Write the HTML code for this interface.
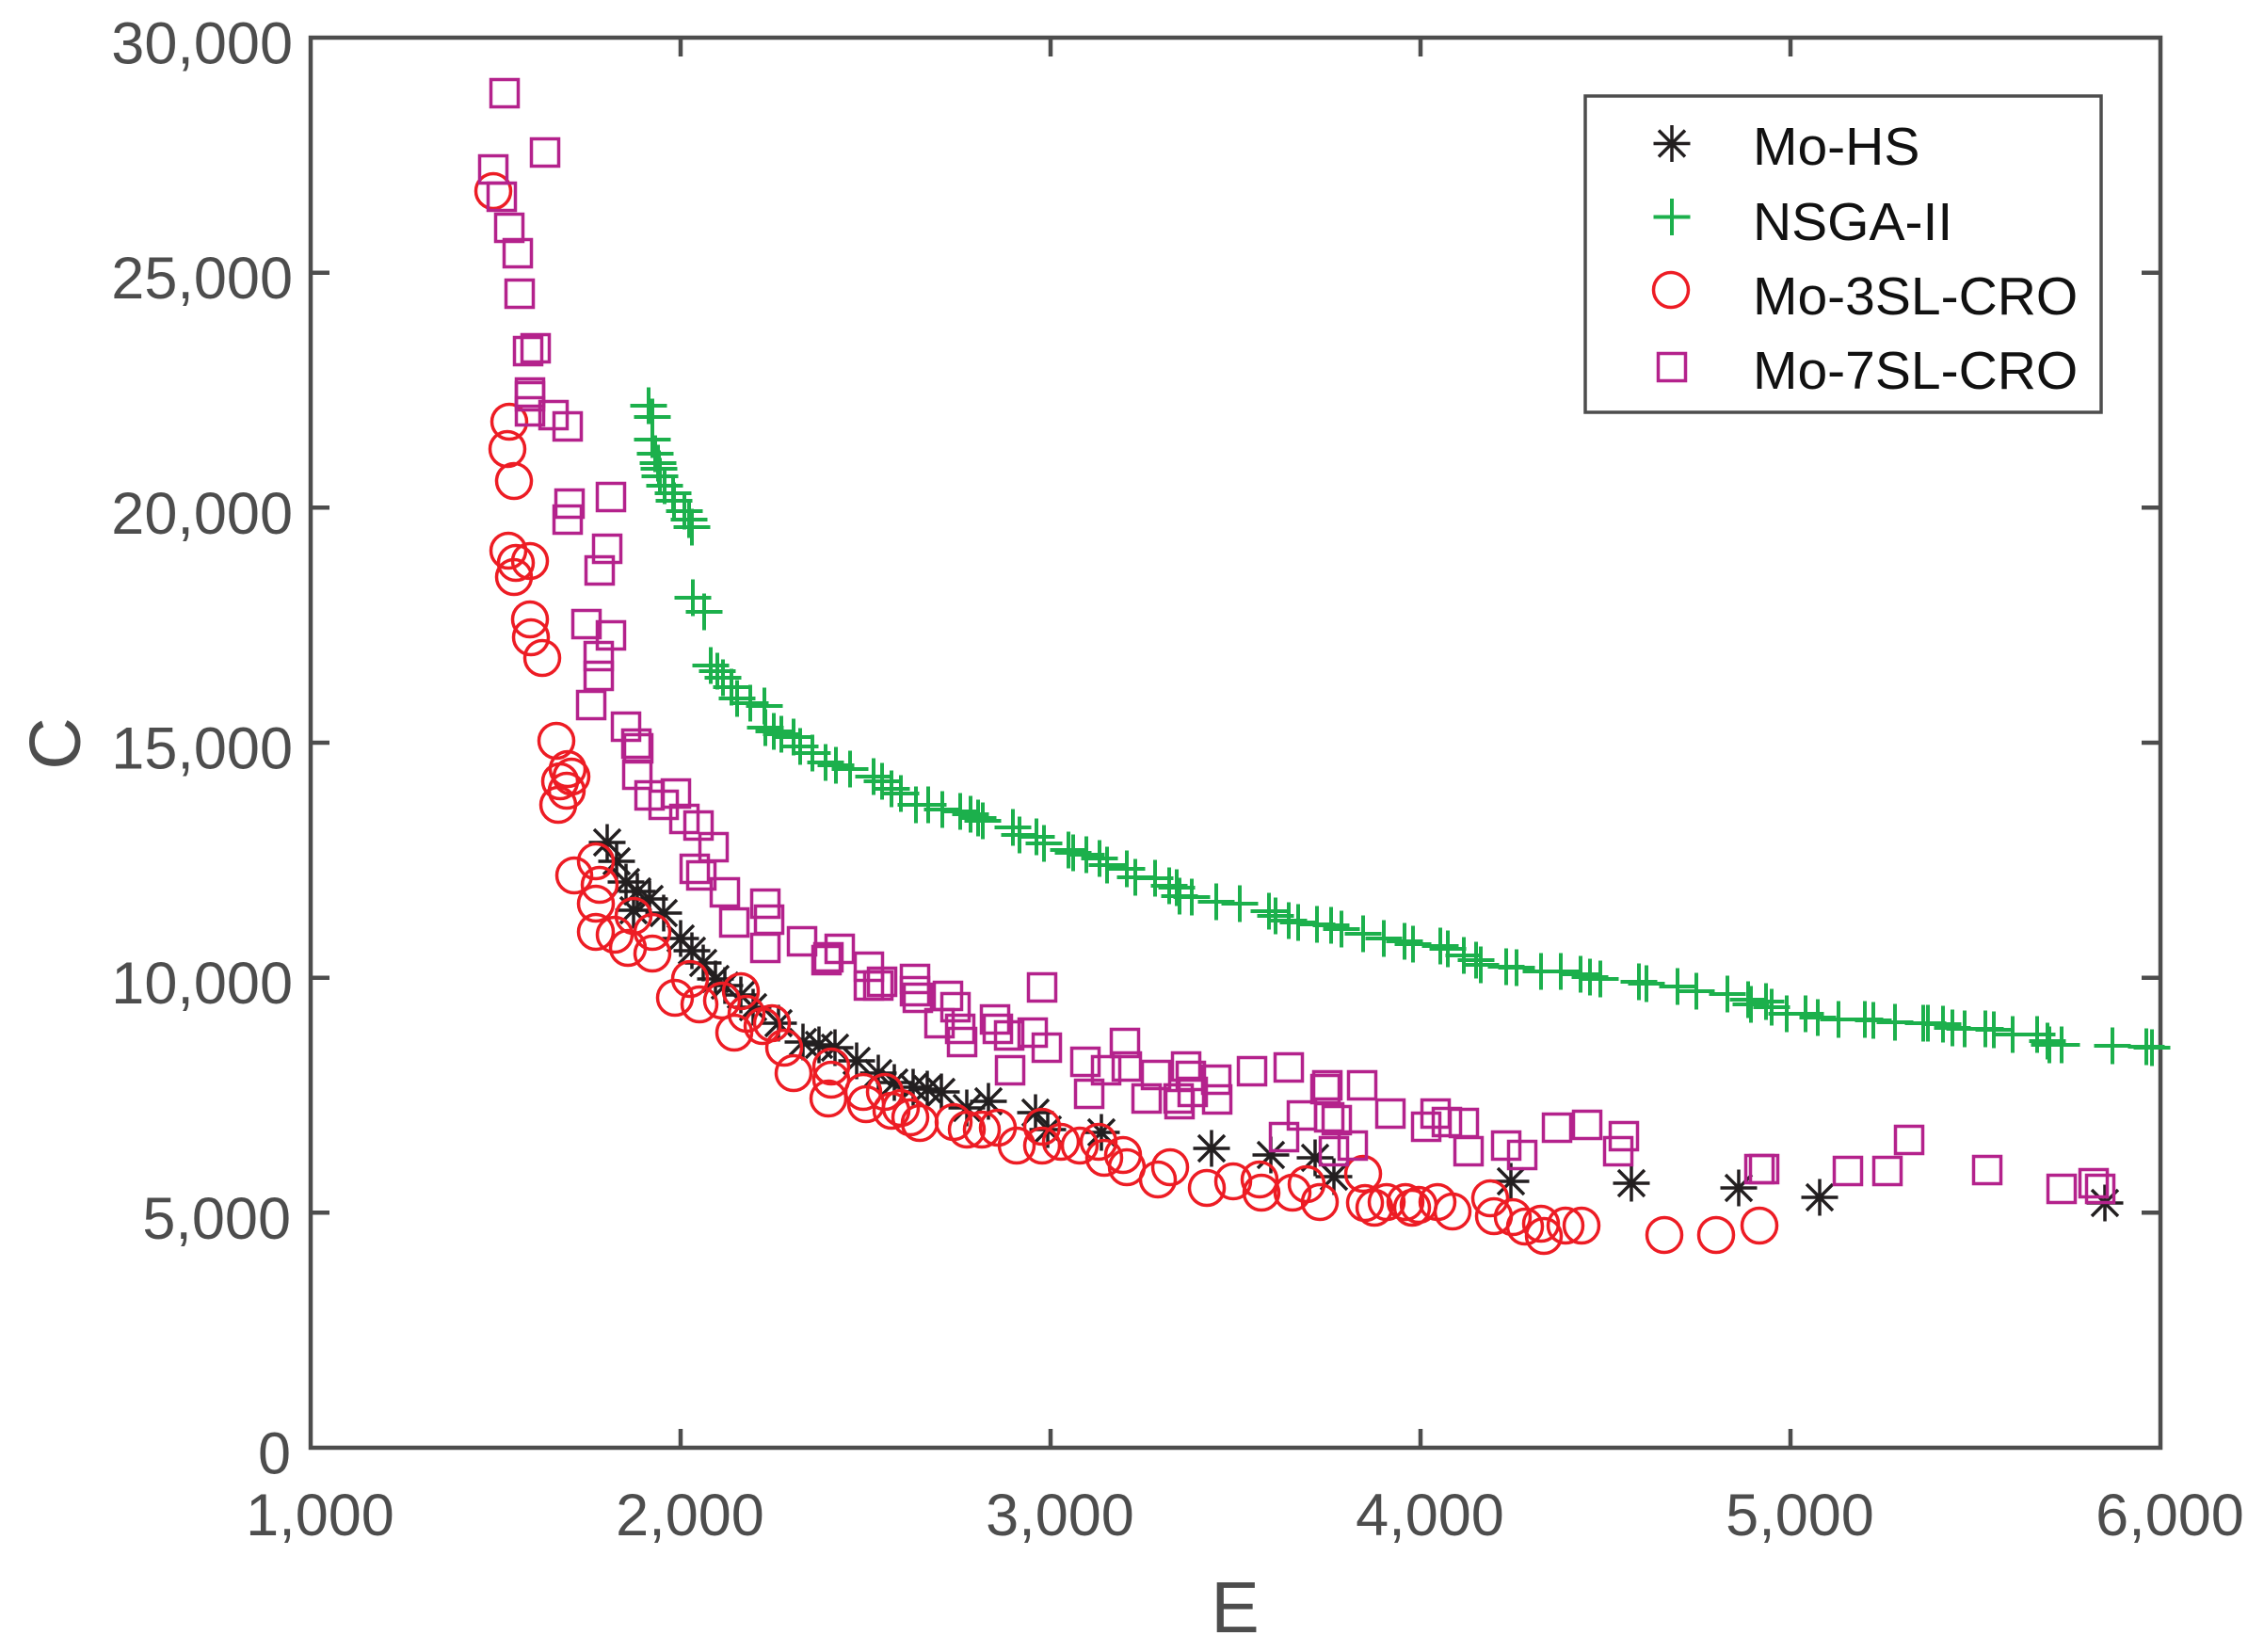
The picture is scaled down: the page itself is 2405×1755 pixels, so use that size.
<!DOCTYPE html>
<html>
<head>
<meta charset="utf-8">
<style>
html,body{margin:0;padding:0;background:#fff;}
svg{display:block;}
text{font-family:"Liberation Sans",Arial,Helvetica,sans-serif;}
</style>
</head>
<body>
<svg width="2405" height="1755" viewBox="0 0 2405 1755">
<defs>
<path id="a" d="M-19.5 0H19.5M0 -19.5V19.5M-14 -14L14 14M-14 14L14 -14" stroke="#231f20" stroke-width="3.5" fill="none"/>
<path id="p" d="M-19.5 0H19.5M0 -19.5V19.5" stroke="#1cb04c" stroke-width="4" fill="none"/>
<circle id="o" cx="0" cy="0" r="18.5" stroke="#ed1c24" stroke-width="3.5" fill="none"/>
<rect id="s" x="-14.5" y="-14.5" width="29" height="29" stroke="#b4228c" stroke-width="3.5" fill="none"/>
</defs>
<rect x="0" y="0" width="2405" height="1755" fill="#fff"/>

<!-- axes box -->
<rect x="330" y="40" width="1965" height="1498" fill="none" stroke="#4d4d4d" stroke-width="4.5"/>
<!-- ticks -->
<g stroke="#4d4d4d" stroke-width="4.5" fill="none">
<path d="M723 1538V1518M1116 1538V1518M1509 1538V1518M1902 1538V1518"/>
<path d="M723 40V60M1116 40V60M1509 40V60M1902 40V60"/>
<path d="M330 1288.3H350M330 1038.7H350M330 789H350M330 539.3H350M330 289.7H350"/>
<path d="M2295 1288.3H2275M2295 1038.7H2275M2295 789H2275M2295 539.3H2275M2295 289.7H2275"/>
</g>
<!-- tick labels -->
<g fill="#4d4d4d" font-size="63">
<g text-anchor="middle">
<text x="340" y="1631">1,000</text>
<text x="733" y="1631">2,000</text>
<text x="1126" y="1631">3,000</text>
<text x="1519" y="1631">4,000</text>
<text x="1912" y="1631">5,000</text>
<text x="2305" y="1631">6,000</text>
</g>
<g text-anchor="end">
<text x="309" y="1565.5">0</text>
<text x="309" y="1315.8">5,000</text>
<text x="311" y="1066.2">10,000</text>
<text x="311" y="816.5">15,000</text>
<text x="311" y="566.8">20,000</text>
<text x="311" y="317.2">25,000</text>
<text x="311" y="67.5">30,000</text>
</g>
</g>
<!-- axis labels -->
<text x="1312" y="1734" font-size="77" fill="#4d4d4d" text-anchor="middle">E</text>
<text transform="translate(85,790) rotate(-90)" x="0" y="0" font-size="77" fill="#4d4d4d" text-anchor="middle">C</text>

<!-- Mo-HS -->
<g>
<use href="#a" x="645" y="895"/><use href="#a" x="655" y="915"/><use href="#a" x="665" y="937"/><use href="#a" x="677" y="947"/>
<use href="#a" x="673" y="967"/><use href="#a" x="690" y="955"/><use href="#a" x="705" y="970"/><use href="#a" x="723" y="997"/>
<use href="#a" x="735" y="1010"/><use href="#a" x="747" y="1023"/><use href="#a" x="760" y="1040"/><use href="#a" x="770" y="1047"/>
<use href="#a" x="787" y="1057"/><use href="#a" x="800" y="1070"/><use href="#a" x="827" y="1087"/><use href="#a" x="853" y="1107"/>
<use href="#a" x="870" y="1110"/><use href="#a" x="887" y="1113"/><use href="#a" x="910" y="1127"/><use href="#a" x="933" y="1140"/>
<use href="#a" x="950" y="1150"/><use href="#a" x="970" y="1155"/><use href="#a" x="985" y="1157"/><use href="#a" x="1000" y="1160"/>
<use href="#a" x="1027" y="1177"/><use href="#a" x="1050" y="1170"/><use href="#a" x="1100" y="1182"/><use href="#a" x="1113" y="1200"/>
<use href="#a" x="1170" y="1203"/><use href="#a" x="1287" y="1220"/><use href="#a" x="1350" y="1227"/><use href="#a" x="1397" y="1230"/>
<use href="#a" x="1417" y="1250"/><use href="#a" x="1605" y="1255"/><use href="#a" x="1733" y="1257"/><use href="#a" x="1847" y="1262"/>
<use href="#a" x="1933" y="1272"/><use href="#a" x="2236" y="1278"/>
</g>

<!-- NSGA-II -->
<g>
<use href="#p" x="689" y="431"/><use href="#p" x="693" y="443"/><use href="#p" x="693" y="467"/><use href="#p" x="696" y="482"/>
<use href="#p" x="699" y="492"/><use href="#p" x="700" y="498"/><use href="#p" x="701" y="506"/><use href="#p" x="706" y="516"/>
<use href="#p" x="715" y="524"/><use href="#p" x="716" y="532"/><use href="#p" x="727" y="543"/><use href="#p" x="732" y="552"/>
<use href="#p" x="735" y="560"/>
<use href="#p" x="736" y="635"/><use href="#p" x="748" y="650"/><use href="#p" x="755" y="707"/><use href="#p" x="762" y="713"/>
<use href="#p" x="768" y="720"/><use href="#p" x="777" y="730"/><use href="#p" x="783" y="742"/><use href="#p" x="797" y="747"/>
<use href="#p" x="812" y="750"/><use href="#p" x="813" y="773"/><use href="#p" x="822" y="777"/><use href="#p" x="830" y="780"/>
<use href="#p" x="843" y="783"/><use href="#p" x="850" y="793"/><use href="#p" x="863" y="800"/><use href="#p" x="877" y="810"/>
<use href="#p" x="888" y="813"/><use href="#p" x="903" y="817"/><use href="#p" x="928" y="825"/><use href="#p" x="937" y="830"/>
<use href="#p" x="947" y="838"/><use href="#p" x="957" y="843"/><use href="#p" x="973" y="855"/>
<use href="#p" x="986" y="855"/><use href="#p" x="1001" y="860"/><use href="#p" x="1020" y="862"/><use href="#p" x="1031" y="865"/>
<use href="#p" x="1039" y="869"/><use href="#p" x="1044" y="872"/><use href="#p" x="1076" y="879"/><use href="#p" x="1083" y="887"/>
<use href="#p" x="1101" y="889"/><use href="#p" x="1109" y="896"/><use href="#p" x="1135" y="903"/><use href="#p" x="1140" y="906"/>
<use href="#p" x="1154" y="908"/><use href="#p" x="1168" y="912"/><use href="#p" x="1176" y="919"/><use href="#p" x="1197" y="923"/>
<use href="#p" x="1206" y="932"/><use href="#p" x="1227" y="933"/><use href="#p" x="1242" y="941"/><use href="#p" x="1250" y="943"/>
<use href="#p" x="1253" y="952"/><use href="#p" x="1266" y="953"/><use href="#p" x="1292" y="958"/><use href="#p" x="1317" y="960"/>
<use href="#p" x="1348" y="968"/><use href="#p" x="1355" y="973"/><use href="#p" x="1369" y="978"/><use href="#p" x="1379" y="980"/>
<use href="#p" x="1399" y="982"/><use href="#p" x="1414" y="983"/><use href="#p" x="1425" y="987"/><use href="#p" x="1448" y="992"/>
<use href="#p" x="1470" y="997"/><use href="#p" x="1492" y="1000"/><use href="#p" x="1501" y="1003"/><use href="#p" x="1530" y="1005"/>
<use href="#p" x="1538" y="1008"/><use href="#p" x="1555" y="1015"/><use href="#p" x="1568" y="1020"/><use href="#p" x="1573" y="1025"/>
<use href="#p" x="1600" y="1027"/><use href="#p" x="1611" y="1028"/><use href="#p" x="1637" y="1032"/><use href="#p" x="1658" y="1032"/>
<use href="#p" x="1679" y="1035"/><use href="#p" x="1689" y="1038"/><use href="#p" x="1700" y="1040"/><use href="#p" x="1741" y="1043"/>
<use href="#p" x="1749" y="1045"/><use href="#p" x="1782" y="1048"/><use href="#p" x="1802" y="1053"/>
<use href="#p" x="1835" y="1056"/><use href="#p" x="1857" y="1062"/><use href="#p" x="1860" y="1067"/><use href="#p" x="1876" y="1064"/>
<use href="#p" x="1882" y="1070"/><use href="#p" x="1898" y="1077"/><use href="#p" x="1918" y="1077"/><use href="#p" x="1931" y="1081"/>
<use href="#p" x="1953" y="1083"/><use href="#p" x="1981" y="1083"/><use href="#p" x="1990" y="1084"/><use href="#p" x="2013" y="1086"/>
<use href="#p" x="2043" y="1087"/><use href="#p" x="2048" y="1087"/><use href="#p" x="2064" y="1088"/><use href="#p" x="2074" y="1092"/>
<use href="#p" x="2087" y="1093"/><use href="#p" x="2109" y="1093"/><use href="#p" x="2118" y="1094"/><use href="#p" x="2138" y="1099"/>
<use href="#p" x="2164" y="1099"/><use href="#p" x="2175" y="1106"/><use href="#p" x="2177" y="1110"/><use href="#p" x="2190" y="1110"/>
<use href="#p" x="2244" y="1111"/><use href="#p" x="2280" y="1112"/><use href="#p" x="2286" y="1113"/>
</g>

<!-- Mo-3SL-CRO -->
<g>
<use href="#o" x="524" y="203"/><use href="#o" x="541" y="448"/><use href="#o" x="539" y="477"/><use href="#o" x="546" y="511"/>
<use href="#o" x="540" y="585"/><use href="#o" x="548" y="598"/><use href="#o" x="563" y="596"/><use href="#o" x="546" y="613"/>
<use href="#o" x="563" y="658"/><use href="#o" x="564" y="677"/><use href="#o" x="576" y="699"/><use href="#o" x="591" y="787"/>
<use href="#o" x="603" y="817"/><use href="#o" x="595" y="830"/><use href="#o" x="607" y="825"/><use href="#o" x="602" y="840"/>
<use href="#o" x="593" y="855"/>
<use href="#o" x="610" y="930"/><use href="#o" x="633" y="915"/><use href="#o" x="637" y="940"/><use href="#o" x="633" y="960"/>
<use href="#o" x="633" y="990"/><use href="#o" x="653" y="993"/><use href="#o" x="667" y="1007"/><use href="#o" x="673" y="973"/>
<use href="#o" x="693" y="990"/><use href="#o" x="693" y="1013"/><use href="#o" x="717" y="1060"/><use href="#o" x="733" y="1040"/>
<use href="#o" x="743" y="1067"/><use href="#o" x="767" y="1063"/><use href="#o" x="787" y="1053"/><use href="#o" x="793" y="1077"/>
<use href="#o" x="810" y="1090"/><use href="#o" x="780" y="1097"/>
<use href="#o" x="820" y="1087"/><use href="#o" x="833" y="1113"/><use href="#o" x="843" y="1140"/><use href="#o" x="883" y="1133"/>
<use href="#o" x="883" y="1147"/><use href="#o" x="880" y="1167"/><use href="#o" x="920" y="1173"/><use href="#o" x="917" y="1160"/>
<use href="#o" x="940" y="1160"/><use href="#o" x="947" y="1180"/><use href="#o" x="957" y="1177"/><use href="#o" x="967" y="1187"/>
<use href="#o" x="977" y="1193"/><use href="#o" x="1013" y="1192"/><use href="#o" x="1027" y="1200"/><use href="#o" x="1043" y="1200"/>
<use href="#o" x="1060" y="1198"/><use href="#o" x="1080" y="1217"/><use href="#o" x="1107" y="1197"/><use href="#o" x="1107" y="1217"/>
<use href="#o" x="1127" y="1213"/><use href="#o" x="1147" y="1217"/><use href="#o" x="1167" y="1213"/><use href="#o" x="1173" y="1230"/>
<use href="#o" x="1193" y="1227"/><use href="#o" x="1197" y="1240"/><use href="#o" x="1230" y="1253"/><use href="#o" x="1243" y="1240"/>
<use href="#o" x="1282" y="1262"/><use href="#o" x="1310" y="1255"/>
<use href="#o" x="1338" y="1253"/><use href="#o" x="1340" y="1267"/><use href="#o" x="1373" y="1267"/><use href="#o" x="1388" y="1258"/>
<use href="#o" x="1402" y="1277"/><use href="#o" x="1448" y="1247"/><use href="#o" x="1450" y="1278"/><use href="#o" x="1460" y="1283"/>
<use href="#o" x="1473" y="1277"/><use href="#o" x="1493" y="1277"/><use href="#o" x="1500" y="1283"/><use href="#o" x="1507" y="1280"/>
<use href="#o" x="1527" y="1277"/><use href="#o" x="1543" y="1287"/><use href="#o" x="1583" y="1273"/><use href="#o" x="1587" y="1292"/>
<use href="#o" x="1607" y="1293"/><use href="#o" x="1620" y="1303"/><use href="#o" x="1637" y="1300"/><use href="#o" x="1640" y="1313"/>
<use href="#o" x="1663" y="1302"/><use href="#o" x="1680" y="1302"/><use href="#o" x="1768" y="1312"/><use href="#o" x="1823" y="1312"/>
<use href="#o" x="1869" y="1302"/>
</g>

<!-- Mo-7SL-CRO -->
<g>
<use href="#s" x="536" y="99"/><use href="#s" x="579" y="162"/><use href="#s" x="524" y="180"/><use href="#s" x="533" y="209"/>
<use href="#s" x="541" y="242"/><use href="#s" x="550" y="269"/><use href="#s" x="552" y="312"/><use href="#s" x="561" y="373"/>
<use href="#s" x="569" y="370"/><use href="#s" x="563" y="417"/><use href="#s" x="563" y="421"/><use href="#s" x="563" y="437"/>
<use href="#s" x="588" y="441"/><use href="#s" x="603" y="453"/><use href="#s" x="649" y="528"/><use href="#s" x="605" y="535"/>
<use href="#s" x="603" y="552"/><use href="#s" x="645" y="583"/>
<use href="#s" x="637" y="606"/><use href="#s" x="623" y="663"/><use href="#s" x="649" y="675"/><use href="#s" x="636" y="697"/>
<use href="#s" x="636" y="718"/><use href="#s" x="628" y="749"/><use href="#s" x="665" y="772"/><use href="#s" x="676" y="790"/>
<use href="#s" x="678" y="795"/><use href="#s" x="677" y="823"/><use href="#s" x="690" y="845"/><use href="#s" x="705" y="855"/>
<use href="#s" x="718" y="843"/><use href="#s" x="727" y="870"/><use href="#s" x="742" y="877"/><use href="#s" x="758" y="900"/>
<use href="#s" x="738" y="923"/><use href="#s" x="745" y="930"/><use href="#s" x="770" y="948"/><use href="#s" x="780" y="980"/>
<use href="#s" x="813" y="960"/><use href="#s" x="817" y="977"/><use href="#s" x="813" y="1007"/>
<use href="#s" x="852" y="1000"/><use href="#s" x="880" y="1017"/><use href="#s" x="892" y="1008"/><use href="#s" x="878" y="1020"/>
<use href="#s" x="923" y="1027"/><use href="#s" x="923" y="1047"/><use href="#s" x="933" y="1047"/><use href="#s" x="937" y="1043"/>
<use href="#s" x="972" y="1040"/><use href="#s" x="975" y="1060"/><use href="#s" x="972" y="1053"/><use href="#s" x="1007" y="1058"/>
<use href="#s" x="1015" y="1070"/><use href="#s" x="998" y="1087"/><use href="#s" x="1020" y="1093"/><use href="#s" x="1022" y="1107"/>
<use href="#s" x="1057" y="1083"/><use href="#s" x="1060" y="1093"/><use href="#s" x="1072" y="1100"/><use href="#s" x="1097" y="1097"/>
<use href="#s" x="1112" y="1113"/><use href="#s" x="1073" y="1137"/><use href="#s" x="1107" y="1049"/><use href="#s" x="1195" y="1108"/>
<use href="#s" x="1153" y="1128"/><use href="#s" x="1175" y="1137"/><use href="#s" x="1157" y="1162"/><use href="#s" x="1197" y="1133"/>
<use href="#s" x="1218" y="1167"/><use href="#s" x="1228" y="1142"/><use href="#s" x="1260" y="1133"/><use href="#s" x="1265" y="1143"/>
<use href="#s" x="1252" y="1167"/><use href="#s" x="1253" y="1173"/><use href="#s" x="1267" y="1160"/><use href="#s" x="1293" y="1168"/>
<use href="#s" x="1292" y="1147"/><use href="#s" x="1330" y="1138"/>
<use href="#s" x="1369" y="1134"/><use href="#s" x="1408" y="1157"/><use href="#s" x="1410" y="1153"/><use href="#s" x="1447" y="1153"/>
<use href="#s" x="1383" y="1185"/><use href="#s" x="1412" y="1187"/><use href="#s" x="1420" y="1190"/><use href="#s" x="1364" y="1208"/>
<use href="#s" x="1417" y="1223"/><use href="#s" x="1437" y="1217"/><use href="#s" x="1477" y="1183"/><use href="#s" x="1525" y="1183"/>
<use href="#s" x="1515" y="1197"/><use href="#s" x="1537" y="1192"/><use href="#s" x="1555" y="1193"/><use href="#s" x="1560" y="1223"/>
<use href="#s" x="1600" y="1217"/><use href="#s" x="1617" y="1227"/><use href="#s" x="1654" y="1198"/><use href="#s" x="1686" y="1195"/>
<use href="#s" x="1725" y="1207"/><use href="#s" x="1719" y="1223"/>
<use href="#s" x="1869" y="1242"/><use href="#s" x="1874" y="1242"/><use href="#s" x="1963" y="1244"/><use href="#s" x="2005" y="1244"/>
<use href="#s" x="2028" y="1211"/><use href="#s" x="2111" y="1243"/><use href="#s" x="2190" y="1263"/><use href="#s" x="2224" y="1257"/>
<use href="#s" x="2231" y="1263"/>
</g>

<!-- legend -->
<rect x="1684" y="102" width="548" height="336" fill="#fff" stroke="#4d4d4d" stroke-width="3.5"/>
<use href="#a" x="1776" y="152.5"/>
<use href="#p" x="1776" y="230.5"/>
<use href="#o" x="1775" y="308"/>
<use href="#s" x="1776" y="390"/>
<g font-size="57" fill="#111">
<text x="1862" y="175">Mo-HS</text>
<text x="1862" y="255">NSGA-II</text>
<text x="1862" y="334">Mo-3SL-CRO</text>
<text x="1862" y="413">Mo-7SL-CRO</text>
</g>
</svg>
</body>
</html>
